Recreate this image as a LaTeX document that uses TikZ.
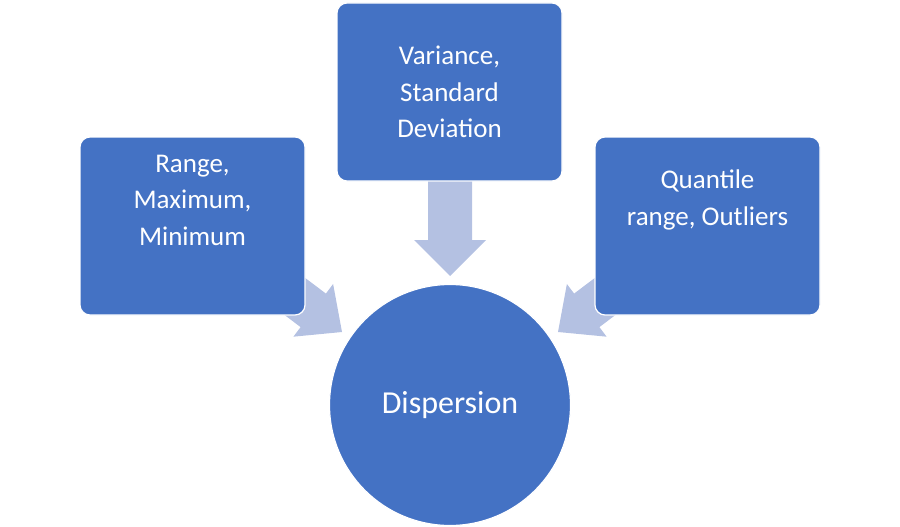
\documentclass[tikz,border=0pt]{standalone}
\usepackage{fontspec}
\setmainfont{Carlito}
\definecolor{boxblue}{HTML}{4472C4}
\definecolor{arrowblue}{HTML}{B4C1E2}
\begin{document}
\begin{tikzpicture}[x=1pt,y=-1pt,
  box/.style={draw=white,line width=1.2pt,fill=boxblue,rounded corners=10pt},
  lbl/.style={text=white,align=center,font=\fontsize{27}{36.5}\selectfont},
  barrow/.style={fill=arrowblue,draw=none}]
\useasboundingbox (0,0) rectangle (900,527);
% arrows (drawn first, tails hidden by boxes)
\begin{scope}[shift={(342,332)},rotate=-37]
\fill[arrowblue] (0,0) -- (-36,-33) -- (-36,-21) -- (-90,-21) -- (-90,21) -- (-36,21) -- (-36,33) -- cycle;
\end{scope}
\begin{scope}[shift={(558,332)},rotate=-143]
\fill[arrowblue] (0,0) -- (-36,-33) -- (-36,-21) -- (-90,-21) -- (-90,21) -- (-36,21) -- (-36,33) -- cycle;
\end{scope}
\fill[arrowblue] (450,276) -- (414,240) -- (428,240) -- (428,180) -- (472,180) -- (472,240) -- (486,240) -- cycle;
% boxes
\draw[box] (80,137) rectangle (305,315);
\draw[box] (337,3) rectangle (562,181);
\draw[box] (595,137) rectangle (820,315);
\node[lbl] (l) at (192.5,200) {Range,\\Maximum,\\Minimum};
\node[lbl] (m) at (449.5,92) {Variance,\\Standard\\Deviation};
\node[lbl] (r) at (707.5,200) {Quantile\\range, Outliers};
\node[circle,fill=boxblue,draw=white,line width=1.2pt,minimum size=241pt,inner sep=0pt,text=white,font=\fontsize{32}{38}\selectfont] (d) at (450,405) {Dispersion};
\end{tikzpicture}
\end{document}
